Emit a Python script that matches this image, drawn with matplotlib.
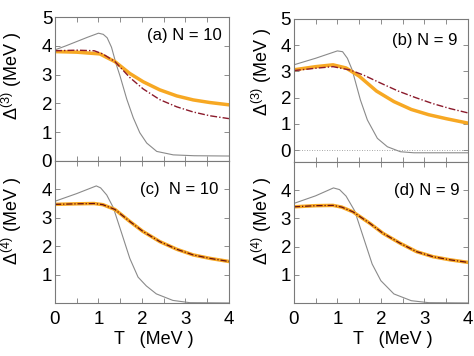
import matplotlib
matplotlib.use('Agg')
import matplotlib.pyplot as plt
from matplotlib.ticker import MultipleLocator

plt.rcParams['font.family'] = ['Liberation Sans', 'DejaVu Sans']
plt.rcParams['mathtext.fontset'] = 'custom'
plt.rcParams['mathtext.rm'] = 'Liberation Sans'
plt.rcParams['mathtext.it'] = 'Liberation Sans'

# panel (a): Delta^(3), N = 10
t_a_gray = [0, 0.25, 0.5, 0.75, 1.0, 1.11, 1.2, 1.3, 1.4, 1.5, 1.65, 1.8,
            1.95, 2.11, 2.34, 2.72, 3.2, 4.0]
a_gray = [3.86, 4.0, 4.15, 4.3, 4.44, 4.40, 4.28, 3.95, 3.4, 2.93, 2.15, 1.5,
          0.98, 0.62, 0.33, 0.21, 0.18, 0.17]
t_a_orange = [0, 0.5, 1.03, 1.38, 1.72, 2.03, 2.41, 2.8, 3.18, 3.56, 4.0]
a_orange = [3.80, 3.78, 3.72, 3.45, 3.04, 2.75, 2.47, 2.26, 2.12, 2.03, 1.95]
t_a_dash = [0, 0.5, 0.9, 1.1, 1.38, 1.72, 2.03, 2.41, 2.8, 3.18, 3.56, 4.0]
a_dash = [3.83, 3.85, 3.83, 3.72, 3.45, 2.9, 2.5, 2.13, 1.88, 1.7, 1.57, 1.47]

# panel (b): Delta^(3), N = 9
t_b_gray = [0, 0.5, 1.0, 1.12, 1.23, 1.34, 1.53, 1.69, 1.92, 2.15, 2.45, 2.76,
            4.0]
b_gray = [3.25, 3.5, 3.78, 3.75, 3.5, 3.06, 1.91, 1.15, 0.45, 0.13, -0.06,
          -0.1, -0.1]
t_b_orange = [0, 0.5, 0.9, 1.2, 1.5, 1.9, 2.3, 2.7, 3.1, 3.5, 4.0]
b_orange = [3.06, 3.18, 3.25, 3.13, 2.82, 2.25, 1.85, 1.55, 1.35, 1.2, 1.03]
t_b_dash = [0, 0.5, 0.9, 1.3, 1.6, 2.0, 2.4, 2.8, 3.2, 3.6, 4.0]
b_dash = [3.03, 3.12, 3.18, 3.05, 2.86, 2.55, 2.25, 2.0, 1.77, 1.58, 1.42]

# panel (c): Delta^(4), N = 10
t_c_gray = [0, 0.5, 0.95, 1.05, 1.19, 1.34, 1.53, 1.72, 1.91, 2.1, 2.33, 2.71,
            3.1, 4.0]
c_gray = [3.58, 3.85, 4.12, 4.05, 3.8, 3.36, 2.47, 1.57, 0.91, 0.6, 0.32,
          0.09, 0.01, 0.0]
t_c = [0, 0.5, 0.9, 1.1, 1.38, 1.72, 2.02, 2.41, 2.8, 3.18, 3.56, 4.0]
c_orange = [3.47, 3.49, 3.5, 3.46, 3.29, 2.87, 2.52, 2.16, 1.89, 1.69, 1.57,
            1.46]

# panel (d): Delta^(4), N = 9
t_d_gray = [0, 0.5, 0.91, 1.05, 1.2, 1.4, 1.6, 1.8, 2.0, 2.3, 2.7, 3.1, 4.0]
d_gray = [3.53, 3.8, 4.08, 4.02, 3.79, 3.26, 2.32, 1.38, 0.79, 0.32, 0.08,
          0.01, 0.0]
t_d = [0, 0.5, 0.9, 1.1, 1.36, 1.75, 2.05, 2.44, 2.82, 3.2, 3.59, 4.0]
d_orange = [3.41, 3.45, 3.46, 3.40, 3.23, 2.82, 2.47, 2.12, 1.82, 1.64, 1.53,
            1.44]

ORANGE = '#f7a823'
DARKRED = '#8b1a2b'
GRAY = '#8a8a8a'
SPINE = '#7a7a7a'
DASHES = (5, 1.5, 1, 1.5)


def style_axes(ax, ylim, yticks):
    ax.set_xlim(0, 4)
    ax.set_ylim(*ylim)
    ax.set_yticks(yticks)
    ax.xaxis.set_major_locator(MultipleLocator(1))
    ax.xaxis.set_minor_locator(MultipleLocator(0.5))
    ax.tick_params(which='both', direction='in', top=True, right=True,
                   color=SPINE, width=0.6, length=3.5, labelsize=13.5)
    ax.tick_params(axis='y', pad=2)
    ax.tick_params(axis='x', pad=6)
    for s in ax.spines.values():
        s.set_color(SPINE)
        s.set_linewidth(0.8)


fig = plt.figure(figsize=(4.74, 3.56), dpi=100)
ax_a = fig.add_axes([0.116, 0.548, 0.367, 0.404])
ax_b = fig.add_axes([0.620, 0.545, 0.367, 0.402])
ax_c = fig.add_axes([0.116, 0.149, 0.367, 0.399])
ax_d = fig.add_axes([0.620, 0.149, 0.367, 0.396])

# (a)
ax_a.plot(t_a_gray, a_gray, color=GRAY, lw=0.8)
ax_a.plot(t_a_orange, a_orange, color=ORANGE, lw=2.5)
ax_a.plot(t_a_dash, a_dash, color=DARKRED, lw=1.0, dashes=DASHES)
style_axes(ax_a, (0, 5), [0, 1, 2, 3, 4, 5])
ax_a.set_xticklabels([])
ax_a.text(0.96, 0.875, '(a) N = 10', transform=ax_a.transAxes,
          ha='right', va='center', fontsize=12)

# (b)
ax_b.axhline(0, color=GRAY, lw=0.6, ls=(0, (1, 2)))
ax_b.plot(t_b_gray, b_gray, color=GRAY, lw=0.8)
ax_b.plot(t_b_orange, b_orange, color=ORANGE, lw=2.5)
ax_b.plot(t_b_dash, b_dash, color=DARKRED, lw=1.0, dashes=DASHES)
style_axes(ax_b, (-0.45, 5), [0, 1, 2, 3, 4, 5])
ax_b.set_xticklabels([])
ax_b.text(0.94, 0.85, '(b) N = 9', transform=ax_b.transAxes,
          ha='right', va='center', fontsize=12)

# (c)
ax_c.plot(t_c_gray, c_gray, color=GRAY, lw=0.8)
ax_c.plot(t_c, c_orange, color=ORANGE, lw=2.5)
ax_c.plot(t_c, c_orange, color='#6a1010', lw=0.9, dashes=DASHES)
style_axes(ax_c, (0, 5), [1, 2, 3, 4])
ax_c.text(0.94, 0.80, '(c)  N = 10', transform=ax_c.transAxes,
          ha='right', va='center', fontsize=12)

# (d)
ax_d.plot(t_d_gray, d_gray, color=GRAY, lw=0.8)
ax_d.plot(t_d, d_orange, color=ORANGE, lw=2.5)
ax_d.plot(t_d, d_orange, color='#6a1010', lw=0.9, dashes=DASHES)
style_axes(ax_d, (0, 5), [1, 2, 3, 4])
ax_d.text(0.95, 0.80, '(d) N = 9', transform=ax_d.transAxes,
          ha='right', va='center', fontsize=12)

for ax, lab, xc, yc in [(ax_a, '3', -0.18, 0.59), (ax_b, '3', -0.115, 0.63),
                        (ax_c, '4', -0.18, 0.58), (ax_d, '4', -0.115, 0.58)]:
    ax.set_ylabel(r'$\Delta^{(' + lab + r')}$ (MeV )', fontsize=13)
    ax.yaxis.set_label_coords(xc, yc)

for ax in (ax_c, ax_d):
    ax.set_xlabel('T   (MeV )', fontsize=13)
    ax.xaxis.set_label_coords(0.57, -0.2)

fig.savefig('out.png', dpi=100)
